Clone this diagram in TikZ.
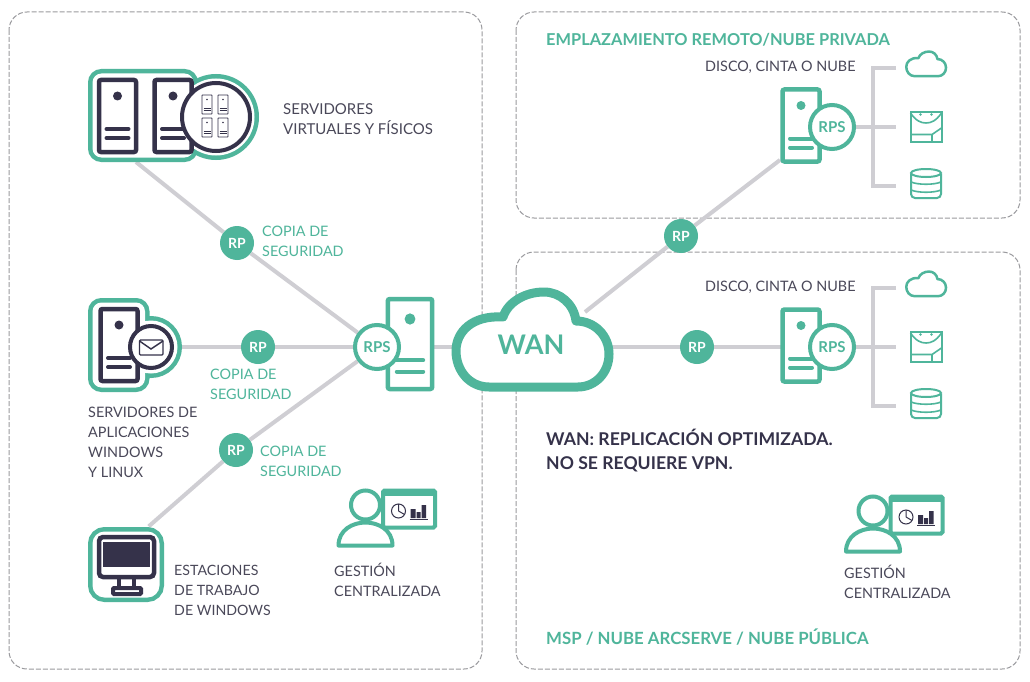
\documentclass[tikz,border=0pt]{standalone}
\usepackage{fontspec}
\setmainfont{Lato}
\usetikzlibrary{backgrounds}
\definecolor{tealc}{HTML}{4FB59B}
\definecolor{darkc}{HTML}{35324A}
\definecolor{linkc}{HTML}{CFCED3}
\definecolor{panelc}{HTML}{9A9A9E}
\definecolor{textc}{HTML}{4A4859}
\begin{document}
\begin{tikzpicture}[
        x=1pt, y=-1pt,
        panel/.style={draw=panelc, dash pattern=on 5pt off 2pt, line width=1pt, rounded corners=18pt},
        link/.style={draw=linkc, line width=4pt},
        bus/.style={draw=linkc, line width=4.5pt},
        halo/.style={draw=tealc, line width=9pt},
        rp/.style={circle, fill=tealc, text=white, font=\bfseries\fontsize{14}{14}\selectfont, minimum size=34pt, inner sep=0pt},
        rps/.style={circle, draw=tealc, fill=white, line width=4pt, text=tealc, font=\bfseries\fontsize{15}{15}\selectfont, minimum size=44pt, inner sep=0pt},
        label/.style={align=left, anchor=west, text=textc, inner sep=0pt, font=\fontsize{14.4}{20}\selectfont},
        copia/.style={label, text=tealc},
        title/.style={align=left, anchor=west, inner sep=0pt, font=\bfseries\fontsize{16.4}{24}\selectfont},
        pics/server/.style={code={
            \draw[fill=white, line width=4.5pt, rounded corners=2pt] (-18.5,-36) rectangle (18.5,36);
            \fill (0,-20) circle[radius=4.5];
            \draw[line width=4pt, line cap=round] (-11,13) -- (11,13) (-11,22) -- (11,22);
        }},
        pics/miniserver/.style={code={
            \draw[line width=.8pt, rounded corners=.5pt] (-5,-9.5) rectangle (5,9.5);
            \fill (0,-5) circle[radius=.9];
            \draw[line width=.8pt] (-3.5,3.5) -- (3.5,3.5) (-3.5,6) -- (3.5,6);
        }},
        pics/cloudicon/.style={code={
            \draw[fill=white, line join=round] (-43,47) .. controls (-63,47) and (-76,30) .. (-76,11)
                .. controls (-76,-8) and (-60,-25) .. (-29,-23)
                .. controls (-24,-38) and (-7,-48) .. (12,-48)
                .. controls (28,-48) and (42,-36) .. (44,-19)
                .. controls (63,-19) and (77,-4) .. (77,14)
                .. controls (77,33) and (63,47) .. (46,47) -- cycle;
        }},
        pics/tapeicon/.style={code={
            \draw[line width=2pt] (-15.5,-15) rectangle (15.5,15);
            \draw[line width=1.6pt] (-15.5,-14) .. controls (-10,-6) and (-5,-4) .. (0,-4) .. controls (5,-4) and (10,-6) .. (15.5,-14);
            \fill (-5.5,-12.5) circle[radius=1.3] (5.5,-12.5) circle[radius=1.3];
            \draw[line width=1.6pt] (-15.5,7.5) -- (6,7.5) -- (15.5,1) (6,7.5) -- (6,15);
        }},
        pics/dbicon/.style={code={
            \draw[line width=2pt, rounded corners=4pt] (-15,-10) -- (-15,14) -- (15,14) -- (15,-10);
            \draw[line width=2pt] (0,-11) ellipse[x radius=15, y radius=4];
            \draw[line width=1.6pt] (-15,-2) .. controls (-8,1) and (8,1) .. (15,-2)
                (-15,6) .. controls (-8,9) and (8,9) .. (15,6);
        }},
        pics/gestion/.style={code={
            % panel behind the person
            \draw[fill=white, line width=4pt, rounded corners=1.5pt] (17.5,-29.5) rectangle (69.5,7.5);
            \fill (17.5,-29.5) rectangle (69.5,-24);
            \draw[darkc, line width=1pt] (33,-9) circle[radius=7];
            \draw[darkc, line width=1pt] (33,-9) -- (33,-16) (33,-9) -- (39,-5.5);
            \fill[darkc] (45,-11) rectangle (50,-2) (51,-8) rectangle (55,-2) (56,-15) rectangle (60.5,-2);
            \draw[darkc, line width=1pt] (44,-.5) -- (62,-.5);
            % person
            \draw[fill=white, line width=4pt, line join=round] (-27,25.5) .. controls (-27,10) and (-13,2.5) .. (0,2.5) .. controls (13,2.5) and (27,10) .. (27,25.5) -- cycle;
            \draw[fill=white, line width=4pt] (0,-15) circle[radius=14.5];
        }}
    ]
        \useasboundingbox (0,0) rectangle (1030,682);

        % Dashed areas
        \begin{scope}[on background layer]
            \fill[white] (0,0) rectangle (1030,682);
            \draw[panel] (9,12) rectangle (482,669);
            \draw[panel] (516,12) rectangle (1020,218);
            \draw[panel] (516,252) rectangle (1020,669);
        \end{scope}

        % Physical and virtual servers
        \draw[halo, rounded corners=9pt] (92.5,73.5) rectangle (193.5,157.5);
        \draw[halo] (216,117) circle[radius=38.5];
        \fill[white, rounded corners=9pt] (92.5,73.5) rectangle (193.5,157.5);
        \fill[white] (216,117) circle[radius=38.5];
        \pic[color=darkc] at (117.5,116) {server};
        \pic[color=darkc] at (173,116) {server};
        \node[circle, draw=darkc, fill=white, line width=4pt, minimum size=68pt] (virt) at (216,117) {};
        \pic[color=darkc] at (207,104.5) {miniserver};
        \pic[color=darkc] at (223,104.5) {miniserver};
        \pic[color=darkc] at (207,127.5) {miniserver};
        \pic[color=darkc] at (223,127.5) {miniserver};
        \coordinate (virtOut) at (136,162);

        % Application servers
        \draw[halo, rounded corners=9pt] (92.5,302.5) rectangle (145,387.5);
        \draw[halo] (151,347) circle[radius=26.5];
        \fill[white, rounded corners=9pt] (92.5,302.5) rectangle (145,387.5);
        \fill[white] (151,347) circle[radius=26.5];
        \pic[color=darkc] at (119,345) {server};
        \node[circle, draw=darkc, fill=white, line width=4pt, minimum size=42pt] (mail) at (151,347) {};
        \draw[darkc, line width=1.4pt, rounded corners=1pt] (139.5,340) rectangle (163,355);
        \draw[darkc, line width=1.4pt] (139.5,341) -- (151,349) -- (163,341);

        % Workstation
        \draw[halo, rounded corners=12pt] (92.5,531.5) rectangle (159.5,597.5);
        \fill[white, rounded corners=12pt] (92.5,531.5) rectangle (159.5,597.5);
        \draw[darkc, fill=white, line width=4.5pt, rounded corners=4pt] (99,537) rectangle (154,577);
        \fill[darkc] (103,542) rectangle (150,567);
        \draw[darkc, line width=4pt] (119,578) -- (119,588) (134,578) -- (134,588);
        \draw[darkc, line width=4pt, rounded corners=1pt] (113,588) rectangle (141,594);
        \node[inner sep=0pt, minimum size=1pt] (desk) at (148,527) {};

        % Central RPS and WAN
        \pic[color=tealc, xscale=1.2, yscale=1.25] at (410,344) {server};
        \node[rps] (rpsC) at (377,347) {RPS};
        \pic[color=tealc, line width=9pt] at (532,340) {cloudicon};
        \node[text=tealc, inner sep=0pt, font=\bfseries\fontsize{27}{27}\selectfont] (wan) at (531,345) {WAN};
        \coordinate (wanR) at (600,347);
        \coordinate (wanL) at (470,347);
        \coordinate (wanT) at (585,312);

        % Remote RPS groups
        \foreach \grp/\dy in {A/0, B/220} {
            \pic[color=tealc] at (801,{125.5+\dy}) {server};
            \node[rps] (rps\grp) at (832,{127+\dy}) {RPS};
            \pic[color=tealc, scale=.26, line width=2.5pt] at (926,{64+\dy}) {cloudicon};
            \pic[color=tealc] at (926,{127+\dy}) {tapeicon};
            \pic[color=tealc] at (926,{184+\dy}) {dbicon};
            \coordinate (stub\grp1) at (896,{68+\dy});
            \coordinate (stub\grp2) at (896,{127+\dy});
            \coordinate (stub\grp3) at (896,{186+\dy});
            \coordinate (trunk\grp1) at (873,{68+\dy});
            \coordinate (trunk\grp3) at (873,{186+\dy});
        }
        \coordinate (srvA) at (780,160);
        \coordinate (srvB) at (785,347);

        % Restore points
        \node[rp] (rp1) at (237,243) {RP};
        \node[rp] (rp2) at (258,347) {RP};
        \node[rp] (rp3) at (236,450) {RP};
        \node[rp] (rp4) at (681,236) {RP};
        \node[rp] (rp5) at (697,347) {RP};

        % Links
        \begin{scope}[on background layer]
            \draw[link] (virtOut) -- (rp1) -- (rpsC);
            \draw[link] (mail) -- (rp2) -- (rpsC);
            \draw[link] (desk) -- (rp3) -- (rpsC);
            \draw[link] (rpsC) -- (wanL);
            \draw[link] (wanR) -- (rp5) -- (srvB);
            \draw[link] (wanT) -- (rp4) -- (srvA);
            \foreach \grp in {A,B} {
                \draw[bus] (rps\grp) -- (stub\grp2);
                \draw[bus] (stub\grp1) -- (trunk\grp1) -- (trunk\grp3) -- (stub\grp3);
            }
        \end{scope}

        % Texts
        \node[label, font=\fontsize{15}{20}\selectfont] (tVirt) at (283,119) {SERVIDORES\\VIRTUALES Y FÍSICOS};
        \node[copia] (tCopia1) at (262,241) {COPIA DE\\SEGURIDAD};
        \node[copia] (tCopia2) at (210,384) {COPIA DE\\SEGURIDAD};
        \node[copia] (tCopia3) at (260,461) {COPIA DE\\SEGURIDAD};
        \node[label] (tApps) at (88,442) {SERVIDORES DE\\APLICACIONES\\WINDOWS\\Y LINUX};
        \node[label, font=\fontsize{14.2}{20}\selectfont] (tDesk) at (174,590) {ESTACIONES\\DE TRABAJO\\DE WINDOWS};
        \node[label] (tGest1) at (334,580) {GESTIÓN\\CENTRALIZADA};
        \node[label] (tGest2) at (844,582) {GESTIÓN\\CENTRALIZADA};
        \node[label] (tDiscoA) at (705,67) {DISCO, CINTA O NUBE};
        \node[label] (tDiscoB) at (705,287) {DISCO, CINTA O NUBE};
        \node[title, text=tealc] (tRemote) at (546,40) {EMPLAZAMIENTO REMOTO/NUBE PRIVADA};
        \node[title, text=darkc, font=\bfseries\fontsize{17.6}{24}\selectfont] (tWan) at (546,451) {WAN: REPLICACIÓN OPTIMIZADA.\\NO SE REQUIERE VPN.};
        \node[title, text=tealc, font=\bfseries\fontsize{16.8}{24}\selectfont] (tMsp) at (546,637) {MSP / NUBE ARCSERVE / NUBE PÚBLICA};

        % Centralised management
        \pic[color=tealc] at (365.5,520) {gestion};
        \pic[color=tealc] at (873,526) {gestion};
    \end{tikzpicture}
\end{document}
